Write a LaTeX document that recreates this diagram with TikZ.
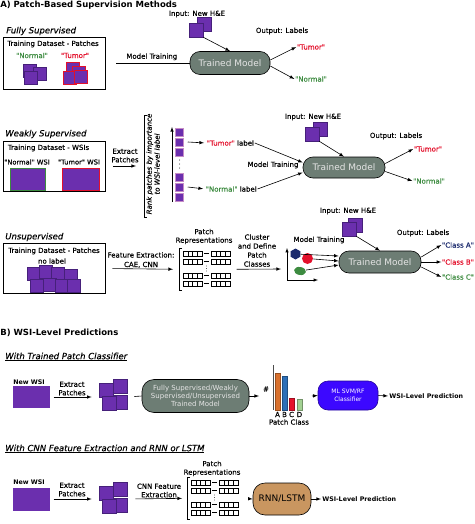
\documentclass[tikz,border=0pt]{standalone}
\usepackage{fontspec}
\setmainfont{DejaVu Sans}
\newfontfamily\lblfont{DejaVu Sans}[FakeBold=0.35]
\usetikzlibrary{shapes.geometric}

\definecolor{hefill}{HTML}{6B2FAE}
\definecolor{hedraw}{HTML}{46207A}
\definecolor{modelgray}{HTML}{6D7D74}
\definecolor{tumorred}{HTML}{E3102B}
\definecolor{normalgreen}{HTML}{3D8B40}
\definecolor{classnavy}{HTML}{1C2B6E}
\definecolor{svmblue}{HTML}{3C08FF}
\definecolor{lstmtan}{HTML}{C99660}
\definecolor{baror}{HTML}{D9712E}
\definecolor{barbl}{HTML}{2E6FB7}
\definecolor{barrd}{HTML}{E5132C}
\definecolor{bargr}{HTML}{A3D193}

% Merkmalsvektor: zwei Kaestchen mit Strich
\newcommand{\featrow}[1]{%
  \foreach \bx in {4,32}{
    \draw[line width=0.4pt] (\bx,#1) rectangle ++(19,5);
    \foreach \c in {1,2,3} \draw[line width=0.4pt] (\bx+\c*4.75,#1) -- ++(0,5);
  }
  \draw[line width=0.5pt] (25,#1+2.5) -- (30,#1+2.5);
}
% Block: Name, x, y (Klammer oben)
\newcommand{\featblock}[3]{%
  \node[inner sep=0pt, minimum width=52pt, minimum height=42pt, anchor=north west] (#1) at (#2,#3) {};
  \begin{scope}[shift={(#2,#3)}]
    \draw[line width=0.7pt] (3,0) -- (0,0) -- (0,42) -- (3,42);
    \featrow{3}\featrow{11}\featrow{25}\featrow{33}
    \foreach \d in {18,20.5,23} \fill (27.5,\d) circle (0.4pt);
  \end{scope}}

\begin{document}
\begin{tikzpicture}[>=latex, x=1pt, y=-1pt, line width=0.6pt,
  lbl/.style={font=\lblfont\fontsize{7}{8.5}\selectfont, align=center, inner sep=0.5pt},
  boldlbl/.style={font=\fontsize{6.3}{7.5}\selectfont\bfseries, inner sep=1pt},
  heading/.style={font=\fontsize{8.5}{10}\selectfont\bfseries, anchor=west, inner sep=0pt},
  subhead/.style={font=\lblfont\fontsize{8.5}{10}\selectfont\itshape, anchor=west, inner sep=0pt},
  databox/.style={draw, line width=0.9pt, minimum width=102pt, inner sep=0pt},
  model/.style={draw, line width=0.6pt, fill=modelgray, rounded corners=10pt, text=black!10, font=\fontsize{9}{10}\selectfont, inner sep=0pt},
  patch/.style={draw=hedraw, fill=hefill, line width=0.5pt, minimum size=14pt, inner sep=0pt},
  wsi/.style={fill=hefill, line width=1pt, inner sep=0pt},
  grp/.style={inner sep=0pt},
]
\useasboundingbox (0,0) rectangle (474,524);

  % A) Knoten
  \node[heading] (titleA) at (0,5) {A) Patch-Based Supervision Methods};

  % voll ueberwacht
  \node[subhead] (subFull) at (6,31) {Fully Supervised};
  \node[databox, minimum height=52pt] (dataFull) at (54,63) {};
  \node[lbl] (dataFullT) at (53,44) {Training Dataset - Patches};
  \node[lbl, text=normalgreen] (normFull) at (32,55.5) {"Normal"};
  \node[lbl, text=tumorred] (tumFull) at (75,55.5) {"Tumor"};
  \foreach \x/\y [count=\i] in {23/64,33/67,24/71}
    \node[patch, minimum size=13pt, anchor=north west] (pn\i) at (\x,\y) {};
  \foreach \x/\y [count=\i] in {66/62,72/66,63/71,74/70}
    \node[patch, draw=tumorred, minimum size=13pt, anchor=north west] (pt\i) at (\x,\y) {};
  \node[model, minimum width=80pt, minimum height=23pt] (tmFull) at (230,63) {Trained Model};
  \node[lbl] (inFull) at (197,14) {Input: New H\&E};
  \node[patch] (heFullB) at (204,24.5) {};
  \node[patch] (heFull) at (196,30) {};
  \node[lbl] (outFull) at (282,31) {Output: Labels};
  \node[lbl, text=tumorred] (oTumFull) at (311,47) {"Tumor"};
  \node[lbl, text=normalgreen] (oNormFull) at (311,79) {"Normal"};

  % Pfeile
  \draw[shorten <=11pt] (dataFull.east) -- (tmFull.west) node[lbl, pos=0.55, above=2pt] (mtFull) {Model Training};
  \draw[->] (heFull.south east) -- (tmFull.north);
  \draw[->] ([yshift=3pt]tmFull.east) -- (oTumFull.west);
  \draw[->] ([yshift=-3pt]tmFull.east) -- (oNormFull.west);

  % schwach ueberwacht
  \node[subhead] (subWeak) at (5,134) {Weakly Supervised};
  \node[databox, minimum height=50pt] (dataWeak) at (54,166) {};
  \node[lbl, anchor=west] (dataWeakT) at (7,148) {Training Dataset - WSIs};
  \node[lbl, font=\lblfont\fontsize{6.7}{8}\selectfont] (wNormT) at (27,162) {"Normal" WSI};
  \node[lbl, font=\lblfont\fontsize{6.7}{8}\selectfont] (wTumT) at (79,162) {"Tumor" WSI};
  \node[wsi, draw=normalgreen, minimum width=35pt, minimum height=22pt] (wsiNorm) at (27.5,179) {};
  \node[wsi, draw=tumorred, minimum width=37pt, minimum height=22pt] (wsiTum) at (80.5,179) {};
  \node[lbl] (exWeak) at (125,155.5) {Extract\\Patches};
  \coordinate (rankBr) at (144,166);
  \draw[line width=0.7pt] (147,115) -- (144,115) -- (144,217) -- (147,217);
  \node[rotate=90, align=center, font=\lblfont\fontsize{7}{8}\selectfont\itshape, inner sep=0pt] (rankT) at (153,164) {Rank patches by importance\\to WSI-level label};
  \foreach \y [count=\i] in {132,142,152,177,187,197}
    \node[patch, minimum size=8pt, draw=violet!45] (rk\i) at (179.5,\y) {};
  \foreach \y in {160,164,168} \fill (179.5,\y) circle (0.5pt);
  \coordinate (rkBot) at (172,202);
  \coordinate (rkTop) at (172,127);
  \node[lbl, anchor=west] (labTum) at (206,143) {\textcolor{tumorred}{"Tumor"} label};
  \node[lbl, anchor=west] (labNorm) at (205,189) {\textcolor{normalgreen}{"Normal"} label};
  \node[model, minimum width=82pt, minimum height=21pt] (tmWeak) at (344,167.5) {Trained Model};
  \node[lbl] (mtWeak) at (273,165) {Model Training};
  \node[lbl] (inWeak) at (313,117) {Input: New H\&E};
  \node[patch] (heWeakB) at (320,129) {};
  \node[patch] (heWeak) at (312,134) {};
  \node[lbl] (outWeak) at (396,136) {Output: Labels};
  \node[lbl, text=tumorred] (oTumWeak) at (428,149) {"Tumor"};
  \node[lbl, text=normalgreen] (oNormWeak) at (429,181) {"Normal"};

  % Pfeile
  \draw[->, shorten <=8pt, shorten >=8pt] (dataWeak.east) -- (rankBr);
  \draw[->] (rkBot) -- (rkTop);
  \draw[->, shorten >=2pt] ([xshift=4pt]rk2.east) -- (labTum.west);
  \draw[->, shorten >=2pt] ([xshift=4pt]rk5.east) -- (labNorm.west);
  \draw[->] (labTum.east) -- ([yshift=5pt]tmWeak.west);
  \draw[->] (labNorm.east) -- ([yshift=-5pt]tmWeak.west);
  \draw[->] (heWeak.south east) -- (tmWeak.north);
  \draw[->] ([yshift=4pt]tmWeak.east) -- (oTumWeak.west);
  \draw[->] ([yshift=-4pt]tmWeak.east) -- (oNormWeak.west);

  % unueberwacht
  \node[subhead] (subUns) at (5,237) {Unsupervised};
  \node[databox, minimum height=50pt] (dataUns) at (54,268.5) {};
  \node[lbl] (dataUnsT) at (54,251) {Training Dataset - Patches};
  \node[lbl] (noLab) at (52,261) {no label};
  \foreach \x/\y [count=\i] in {27/267,39/265,51/267,64/269,30/279,43/278,55/279,67/279}
    \node[patch, minimum size=13pt, anchor=north west] (pu\i) at (\x,\y) {};
  \node[lbl, font=\lblfont\fontsize{7}{9.5}\selectfont] (feUns) at (141,260) {Feature Extraction:\\CAE, CNN};
  \featblock{repUns}{179}{248}
  \node[lbl] (repUnsT) at (204,236.5) {Patch\\Representations};
  \node[lbl, font=\lblfont\fontsize{7}{9}\selectfont] (clUns) at (257,250.5) {Cluster\\and Define\\Patch\\Classes};
  \coordinate (scIn) at (281,269);
  \coordinate (scO) at (287,280);
  \coordinate (scY) at (287,248);
  \coordinate (scX) at (318,280);
  \node[regular polygon, regular polygon sides=6, rotate=30, fill=classnavy, minimum size=11pt, inner sep=0pt] (blobA) at (295.5,254) {};
  \node[circle, fill=tumorred, minimum size=11pt, inner sep=0pt] (blobB) at (307.5,258.5) {};
  \node[ellipse, fill=normalgreen, minimum width=12pt, minimum height=8pt, inner sep=0pt, rotate=-10] (blobC) at (300,271) {};
  \node[lbl] (mtUns) at (319,240) {Model Training};
  \node[model, minimum width=82pt, minimum height=22pt] (tmUns) at (380,262) {Trained Model};
  \node[lbl] (inUns) at (348,211) {Input: New H\&E};
  \node[patch] (heUnsB) at (355,225) {};
  \node[patch] (heUns) at (349,229) {};
  \node[lbl] (outUns) at (423,233) {Output: Labels};
  \node[lbl, text=classnavy] (clsA) at (458,245) {"Class A"};
  \node[lbl, text=tumorred] (clsB) at (458,262) {"Class B"};
  \node[lbl, text=normalgreen] (clsC) at (458,277) {"Class C"};

  % Pfeile
  \draw[->, shorten <=7pt, shorten >=6pt] (dataUns.east) -- (repUns.west);
  \draw[->, shorten <=5pt] (repUns.east) -- (scIn);
  \draw[<->, line width=0.5pt] (scY) -- (scO) -- (scX);
  \draw[->] (blobA) -- ([yshift=6pt]tmUns.west);
  \draw[->] (blobB) -- ([yshift=1pt]tmUns.west);
  \draw[->] (blobC) -- ([yshift=-3pt]tmUns.west);
  \draw[->] (heUns.south east) -- (tmUns.north);
  \draw[->] ([yshift=5pt]tmUns.east) -- (clsA.west);
  \draw[->] (tmUns.east) -- (clsB.west);
  \draw[->] ([yshift=-5pt]tmUns.east) -- (clsC.west);

  % B) Knoten
  \node[heading] (titleB) at (0,333) {B) WSI-Level Predictions};

  % mit Patch-Klassifikator
  \node[subhead] (subTpc) at (5,357) {\underline{With Trained Patch Classifier}};
  \node[boldlbl] (newWsi1) at (29,382) {New WSI};
  \node[wsi, draw=hefill, minimum width=36pt, minimum height=21pt] (wsi1) at (31,397) {};
  \node[lbl] (ex1) at (72,388.5) {Extract\\Patches};
  \node[grp, minimum width=28pt, minimum height=31pt] (pc1) at (113,397) {};
  \foreach \x/\y [count=\i] in {113/379,99/383,113/395,102/396}
    \node[patch, anchor=north west] (pa\i) at (\x,\y) {};
  \node[model, minimum width=107pt, minimum height=33pt, rounded corners=12pt, font=\fontsize{7}{8.3}\selectfont, align=center] (tm1) at (195.5,396) {Fully Supervised/Weakly\\Supervised/Unsupervised\\Trained Model};
  \node[lbl] (hash1) at (266,389) {\#};
  \coordinate (bcIn) at (259,396);
  \coordinate (bcTop) at (273,365);
  \coordinate (bcBot) at (273,410);
  \draw[black!70] (bcTop) -- (bcBot);
  \foreach \x/\h/\c/\t [count=\i] in {275/373/baror/A,282/376/barbl/B,289/398/barrd/C,297/399/bargr/D}{
    \filldraw[fill=\c, draw=\c!70!black, line width=0.4pt] (\x,410) rectangle (\x+5,\h);
    \node[lbl] (bar\i) at (\x+2.5,414.5) {\t};
  }
  \node[lbl] (pcl1) at (289,422) {Patch Class};
  \coordinate (bcOut) at (312,396);
  \node[rounded corners=10pt, fill=svmblue, draw=svmblue!60!black, text=white, font=\fontsize{6}{7.5}\selectfont, align=center, minimum width=60pt, minimum height=29pt, inner sep=0pt] (svm1) at (348,395.5) {ML SVM/RF\\Classifier};
  \node[boldlbl, anchor=west] (pred1) at (388,396) {WSI-Level Prediction};

  % Pfeile
  \draw[->, shorten <=4pt, shorten >=7pt] (wsi1.east) -- (pc1.west);
  \draw[shorten <=7pt] (pc1.east) -- (tm1.west);
  \draw[->] (tm1.east) -- (bcIn);
  \draw[->] (bcOut) -- (svm1.west);
  \draw[->] (svm1.east) -- (pred1.west);

  % mit CNN und RNN/LSTM
  \node[subhead] (subCnn) at (5,449) {\underline{With CNN Feature Extraction and RNN or LSTM}};
  \node[boldlbl] (newWsi2) at (29,482) {New WSI};
  \node[wsi, draw=hefill, minimum width=36pt, minimum height=22pt] (wsi2) at (31,499) {};
  \node[lbl] (ex2) at (72,489.5) {Extract\\Patches};
  \node[grp, minimum width=28pt, minimum height=31pt] (pc2) at (113,499) {};
  \foreach \x/\y [count=\i] in {113/482,99/486,113/498,102/499}
    \node[patch, anchor=north west] (pb\i) at (\x,\y) {};
  \node[lbl] (cnn2) at (159,490.5) {CNN Feature\\Extraction};
  \featblock{rep2}{187}{477}
  \node[lbl] (rep2T) at (212,468.5) {Patch\\Representations};
  \node[rounded corners=12pt, draw, fill=lstmtan, font=\fontsize{9}{10}\selectfont, minimum width=58pt, minimum height=32pt, inner sep=0pt] (lstm2) at (282,499) {RNN/LSTM};
  \node[boldlbl, anchor=west] (pred2) at (321,499) {WSI-Level Prediction};

  % Pfeile
  \draw[->, shorten <=4pt, shorten >=7pt] (wsi2.east) -- (pc2.west);
  \draw[->, shorten <=8pt, shorten >=5pt] (pc2.east) -- (rep2.west);
  \draw[->, shorten <=9pt] (rep2.east) -- (lstm2.west);
  \draw[->] (lstm2.east) -- (pred2.west);
\end{tikzpicture}
\end{document}
